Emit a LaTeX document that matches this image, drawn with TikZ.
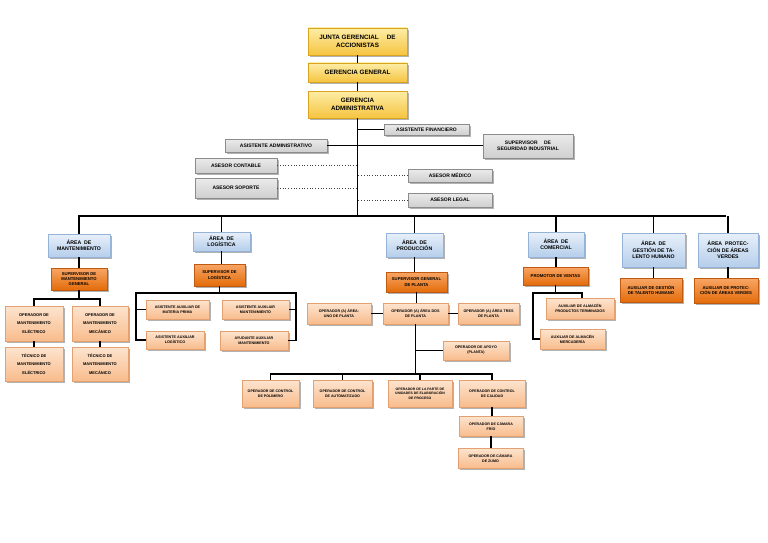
\documentclass[tikz,border=0pt]{standalone}
\usepackage{fontspec}
\setmainfont{Liberation Sans}
\usetikzlibrary{shadows}
\definecolor{goldT}{HTML}{FDEDA6}
\definecolor{goldB}{HTML}{F5C440}
\definecolor{goldD}{HTML}{D9A520}
\definecolor{blueT}{HTML}{E8F0F9}
\definecolor{blueB}{HTML}{B5CEEB}
\definecolor{blueD}{HTML}{95B3D7}
\definecolor{orgT}{HTML}{F9A666}
\definecolor{orgB}{HTML}{E36C0A}
\definecolor{orgD}{HTML}{C05A10}
\definecolor{pchT}{HTML}{FDE4CF}
\definecolor{pchB}{HTML}{F8BC8C}
\definecolor{pchD}{HTML}{E3A070}
\definecolor{gryT}{HTML}{EBEBEB}
\definecolor{gryB}{HTML}{CFCFCF}
\definecolor{gryD}{HTML}{8C8C8C}
\newcommand\OBox[7]{\node[#2, minimum width={(#5-#3)*1pt}, minimum height={(#6-#4)*1pt}] (#1) at ({(#3+#5)/2},{(#4+#6)/2}) {#7};}
\tikzset{
  base/.style={rectangle, inner sep=0.5pt, align=center, line width=0.6pt,
     drop shadow={shadow xshift=1.8pt, shadow yshift=-1.8pt, fill=black, opacity=0.3}},
  goldbox/.style={base, draw=goldD, top color=goldT, bottom color=goldB, font=\fontsize{6.3}{7.6}\selectfont\bfseries},
  graybox/.style={base, draw=gryD, top color=gryT, bottom color=gryB, font=\fontsize{5}{6.2}\selectfont\bfseries},
  bluebox/.style={base, draw=blueD, top color=blueT, bottom color=blueB, font=\fontsize{5.2}{6.4}\selectfont\bfseries},
  orgbox/.style={base, draw=orgD, top color=orgT, bottom color=orgB, font=\fontsize{4.2}{5.4}\selectfont\bfseries},
  pchbox/.style={base, draw=pchD, top color=pchT, bottom color=pchB, font=\fontsize{4}{5.2}\selectfont\bfseries},
  conn/.style={draw=black, line width=1.1pt},
  dots/.style={draw=black!75, dotted, line width=0.7pt},
}
\begin{document}
\begin{tikzpicture}[x=1pt, y=-1pt]
\fill[white] (0,0) rectangle (768,543);
\useasboundingbox (0,0) rectangle (768,543);

% ---------- top ----------
\OBox{junta}{goldbox}{308}{28}{407}{55}{JUNTA GERENCIAL \quad DE\\ACCIONISTAS}
\OBox{gerg}{goldbox}{308}{63}{407}{82}{GERENCIA GENERAL}
\OBox{gera}{goldbox}{308}{91}{407}{118}{GERENCIA\\ADMINISTRATIVA}
\OBox{asfin}{graybox}{384}{124}{469}{135}{ASISTENTE FINANCIERO}
\OBox{asadm}{graybox}{225}{139}{327}{152}{ASISTENTE ADMINISTRATIVO}
\OBox{supseg}{graybox}{483}{134}{573}{158}{SUPERVISOR \quad DE\\SEGURIDAD INDUSTRIAL}
\OBox{ascont}{graybox}{195}{158}{277}{173}{ASESOR CONTABLE}
\OBox{assop}{graybox}{195}{178}{277}{198}{ASESOR SOPORTE}
\OBox{asmed}{graybox}{408}{169}{492}{182}{ASESOR MÉDICO}
\OBox{asleg}{graybox}{408}{193}{492}{207}{ASESOR LEGAL}

% ---------- areas ----------
\OBox{amant}{bluebox}{48}{234}{110}{257}{ÁREA \ DE\\MANTENIMIENTO}
\OBox{alog}{bluebox}{193}{232}{250}{251}{ÁREA \ DE\\LOGÍSTICA}
\OBox{aprod}{bluebox}{386}{233}{443}{257}{ÁREA \ DE\\PRODUCCIÓN}
\OBox{acom}{bluebox}{528}{232}{584}{257}{ÁREA \ DE\\COMERCIAL}
\OBox{atal}{bluebox}{622}{233}{685}{267}{ÁREA \ DE\\GESTIÓN DE TA-\\LENTO HUMANO}
\OBox{aprot}{bluebox}{698}{233}{758}{267}{ÁREA \ PROTEC-\\CIÓN DE ÁREAS\\VERDES}

% ---------- supervisors ----------
\OBox{smant}{orgbox}{51}{268}{107}{290}{SUPERVISOR DE\\MANTENIMIENTO\\GENERAL}
\OBox{slog}{orgbox}{194}{264}{245}{286}{SUPERVISOR DE\\LOGÍSTICA}
\OBox{sprod}{orgbox}{386}{272}{447}{292}{SUPERVISOR GENERAL\\DE PLANTA}
\OBox{prom}{orgbox}{523}{267}{588}{285}{PROMOTOR DE VENTAS}
\OBox{auxtal}{orgbox}{620}{278}{682}{302}{AUXILIAR DE GESTIÓN\\DE TALENTO HUMANO}
\OBox{auxprot}{orgbox}{694}{278}{758}{303}{AUXILIAR DE PROTEC-\\CIÓN DE ÁREAS VERDES}

% ---------- mantenimiento ----------
\OBox{opel}{pchbox, font=\fontsize{4}{8.5}\selectfont\bfseries}{5}{306}{63}{341}{OPERADOR DE\\MANTENIMIENTO\\ELÉCTRICO}
\OBox{opmec}{pchbox, font=\fontsize{4}{8.5}\selectfont\bfseries}{72}{306}{128}{341}{OPERADOR DE\\MANTENIMIENTO\\MECÁNICO}
\OBox{tecel}{pchbox, font=\fontsize{4}{8.5}\selectfont\bfseries}{5}{347}{63}{381}{TÉCNICO DE\\MANTENIMIENTO\\ELÉCTRICO}
\OBox{tecmec}{pchbox, font=\fontsize{4}{8.5}\selectfont\bfseries}{72}{347}{128}{381}{TÉCNICO DE\\MANTENIMIENTO\\MECÁNICO}

% ---------- logistica ----------
\OBox{lb1}{pchbox, font=\fontsize{3.7}{5}\selectfont\bfseries}{146}{300}{209}{319}{ASISTENTE AUXILIAR DE\\MATERIA PRIMA}
\OBox{lb2}{pchbox, font=\fontsize{3.7}{5}\selectfont\bfseries}{222}{300}{289}{319}{ASISTENTE AUXILIAR\\MANTENIMIENTO}
\OBox{lb3}{pchbox, font=\fontsize{3.7}{5}\selectfont\bfseries}{146}{331}{204}{349}{ASISTENTE AUXILIAR\\LOGÍSTICO}
\OBox{lb4}{pchbox, font=\fontsize{3.7}{5}\selectfont\bfseries}{220}{331}{288}{350}{AYUDANTE AUXILIAR\\MANTENIMIENTO}

% ---------- produccion ----------
\OBox{opA}{pchbox, font=\fontsize{3.7}{5}\selectfont\bfseries}{307}{303}{371}{324}{OPERADOR (A) ÁREA-\\UNO DE PLANTA}
\OBox{opB}{pchbox, font=\fontsize{3.7}{5}\selectfont\bfseries}{383}{303}{448}{324}{OPERADOR (A) ÁREA DOS\\DE PLANTA}
\OBox{opC}{pchbox, font=\fontsize{3.7}{5}\selectfont\bfseries}{458}{303}{519}{324}{OPERADOR (A) ÁREA TRES\\DE PLANTA}
\OBox{opap}{pchbox, font=\fontsize{3.7}{5}\selectfont\bfseries}{443}{341}{509}{360}{OPERADOR DE APOYO\\(PLANTA)}
\OBox{p1}{pchbox, font=\fontsize{3.6}{5}\selectfont\bfseries}{242}{380}{299}{407}{OPERADOR DE CONTROL\\DE POLÍMERO}
\OBox{p2}{pchbox, font=\fontsize{3.6}{5}\selectfont\bfseries}{313}{380}{372}{407}{OPERADOR DE CONTROL\\DE AUTOMATIZADO}
\OBox{p3}{pchbox, font=\fontsize{3.4}{4.6}\selectfont\bfseries}{388}{380}{452}{407}{OPERADOR DE LA PARTE DE\\UNIDADES DE ELABORACIÓN\\DE PROCESO}
\OBox{p4}{pchbox, font=\fontsize{3.6}{5}\selectfont\bfseries}{459}{380}{525}{407}{OPERADOR DE CONTROL\\DE CALIDAD}
\OBox{p5}{pchbox, font=\fontsize{3.6}{5}\selectfont\bfseries}{459}{416}{523}{436}{OPERADOR DE CÁMARA\\FRÍO}
\OBox{p6}{pchbox, font=\fontsize{3.6}{5}\selectfont\bfseries}{458}{448}{523}{468}{OPERADOR DE CÁMARA\\DE ZUMO}

% ---------- comercial ----------
\OBox{c1}{pchbox, font=\fontsize{3.7}{5}\selectfont\bfseries}{546}{298}{614}{319}{AUXILIAR DE ALMACÉN\\PRODUCTOS TERMINADOS}
\OBox{c2}{pchbox, font=\fontsize{3.7}{5}\selectfont\bfseries}{540}{329}{605}{349}{AUXILIAR DE ALMACÉN\\MERCADERÍA}

% ---------- coordinates ----------
\coordinate (busL) at (78,216);
\coordinate (busR) at (726,216);
\coordinate (mbus) at (0,299);
\coordinate (lbusL) at (136,293);
\coordinate (lbusR) at (296,293);
\coordinate (pbus) at (0,374);
\coordinate (cbusL) at (533,293);
\coordinate (cbusR) at (582,293);

% ---------- connectors (top) ----------
\path[conn] (junta.south) -- (gerg.north);
\path[conn] (gerg.south) -- (gera.north);
\path[conn] (gera.south) -- (gera.south |- busL);
\path[conn] (asfin.west) -- (asfin.west -| gera.south);
\path[conn] (asadm.east) -- (asadm.east -| supseg.west);
\path[dots] (ascont.east) -- (ascont.east -| gera.south);
\path[dots] (assop.east) -- (assop.east -| gera.south);
\path[dots] (asmed.west) -- (asmed.west -| gera.south);
\path[dots] (asleg.west) -- (asleg.west -| gera.south);
\path[conn] (busL) -- (busR);
\foreach \n in {amant,alog,aprod,acom,atal,aprot}{
  \path[conn] (\n.north) -- (\n.north |- busL);
}

% area -> supervisor
\path[conn] (amant.south) -- (amant.south |- smant.north);
\path[conn] (alog.south) -- (alog.south |- slog.north);
\path[conn] (aprod.south) -- (aprod.south |- sprod.north);
\path[conn] (acom.south) -- (acom.south |- prom.north);
\path[conn] (atal.south) -- (atal.south |- auxtal.north);
\path[conn] (aprot.south) -- (aprot.south |- auxprot.north);

% mantenimiento
\path[conn] (smant.south) -- (smant.south |- mbus);
\path[conn] (opel.north) -- (opel.north |- mbus) -| (opmec.north);
\path[conn] (opel.south) -- (tecel.north);
\path[conn] (opmec.south) -- (tecmec.north);

% logistica
\path[conn] (slog.south) -- (slog.south |- lbusL);
\path[conn] (lb3.west) -| (lbusL) -- (lbusR) |- (lb4.east);
\path[conn] (lb1.west) -- (lb1.west -| lbusL);
\path[conn] (lb2.east) -- (lb2.east -| lbusR);

% produccion
\path[conn] (sprod.south) -- (sprod.south |- opB.north);
\path[conn] (opA.east) -- (opB.west);
\path[conn] (opB.east) -- (opC.west);
\path[conn] (opB.south) -- (opB.south |- pbus);
\path[conn] (opap.west) -- (opap.west -| opB.south);
\path[conn] (p1.north) -- (p1.north |- pbus) -| (p4.north);
\path[conn] (p2.north) -- (p2.north |- pbus);
\path[conn] (p3.north) -- (p3.north |- pbus);
\path[conn] (p4.south) -- (p4.south |- p5.north);
\path[conn] (p5.south) -- (p5.south |- p6.north);

% comercial
\path[conn] (prom.south) -- (prom.south |- cbusL);
\path[conn] (c2.west) -| (cbusL) -- (cbusR) -- (cbusR |- c1.north);
\end{tikzpicture}
\end{document}
